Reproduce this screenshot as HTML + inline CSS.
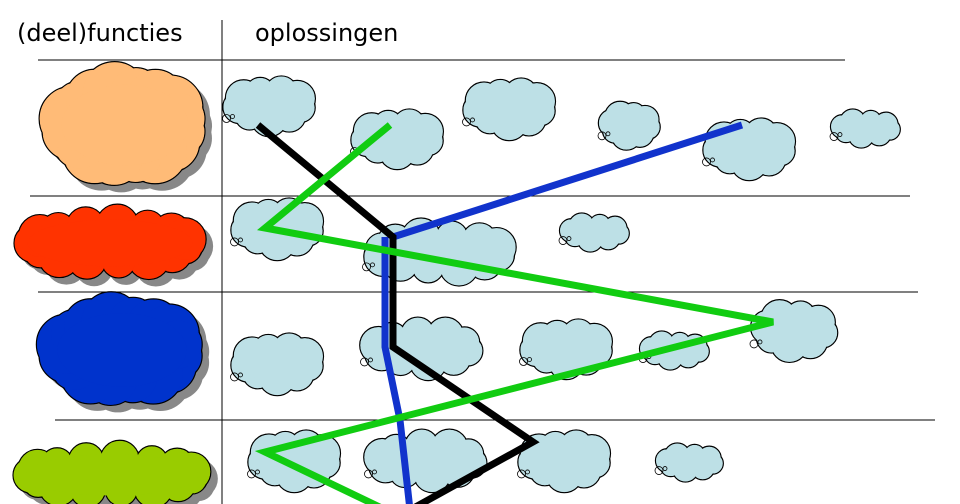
<!DOCTYPE html>
<html><head><meta charset="utf-8"><style>
body{margin:0;background:#fff;width:960px;height:504px;overflow:hidden}
svg{display:block}
text{font-family:"DejaVu Sans","Liberation Sans",sans-serif;font-size:24px;fill:#000}
</style></head><body>
<svg id="s" width="960" height="504" viewBox="0 0 960 504">
<g stroke="#000" stroke-width="1">
<line x1="38" y1="60" x2="845" y2="60"/>
<line x1="30" y1="196" x2="910" y2="196"/>
<line x1="38" y1="292" x2="918" y2="292"/>
<line x1="55" y1="420" x2="935" y2="420"/>
<line x1="222" y1="20" x2="222" y2="504"/>
</g>
<text x="17" y="41">(deel)functies</text>
<text x="255" y="41">oplossingen</text>
<g id="clouds"></g>
<g fill="none" stroke-width="7" stroke-linejoin="miter">
<polyline stroke="#1133cc" points="742,125 393,237"/>
<polyline stroke="#1133cc" points="385,237 385,347 400,420 410,510"/>
<polyline stroke="#000" points="258,125 393,237 393,347 533,442 410,510"/>
<polyline stroke="#11cc11" points="390,125 265,228 773,322 265,452 390,512"/>
</g>
</svg>
<script>
var NS="http://www.w3.org/2000/svg",G=document.getElementById("clouds");
function el(t,a,p){var e=document.createElementNS(NS,t);for(var k in a)e.setAttribute(k,a[k]);(p||G).appendChild(e);return e;}
function cloud(cx,cy,w,h,fill,shadow){
 var rx=w/2,ry=h/2,n=Math.max(8,Math.round((w+h)/18));
 var r=Math.min(rx,ry)*0.42+4;
 var pts=[];
 for(var i=0;i<n;i++){var a=i/n*2*Math.PI+0.2;pts.push([cx+(rx-r)*Math.cos(a),cy+(ry-r)*Math.sin(a),r*(0.9+0.2*((i*7)%3)/2)]);}
 var g=el("g",{});
 if(shadow){pts.forEach(function(p){el("circle",{cx:p[0]+7,cy:p[1]+7,r:p[2],fill:"#888"},g)});el("ellipse",{cx:cx+7,cy:cy+7,rx:rx-r,ry:ry-r,fill:"#888"},g);}
 pts.forEach(function(p){el("circle",{cx:p[0],cy:p[1],r:p[2],fill:fill,stroke:"#000","stroke-width":1.2},g)});
 pts.forEach(function(p){el("circle",{cx:p[0],cy:p[1],r:p[2]-0.7,fill:fill},g)});
 el("ellipse",{cx:cx,cy:cy,rx:Math.max(rx-r,2)+r*0.3,ry:Math.max(ry-r,2)+r*0.3,fill:fill},g);
 if(!shadow){var bx=cx-rx+4,by=cy+ry*0.45;
  el("circle",{cx:bx,cy:by,r:4,fill:"none",stroke:"#000","stroke-width":0.8},g);
  el("circle",{cx:bx+6,cy:by-2,r:2,fill:"none",stroke:"#000","stroke-width":0.8},g);}
}
cloud(125,125,168,122,"#ffbb77",1);
cloud(110,243,192,74,"#ff3300",1);
cloud(122,350,168,112,"#0033cc",1);
cloud(112,475,198,66,"#99cc00",1);
var L="#bde0e6";
[[270,105,95,60],[398,138,95,60],[510,108,95,62],[630,125,64,48],[750,148,95,62],[866,128,72,38],
[278,228,95,62],[440,252,155,66],[595,232,72,38],
[278,363,95,62],[423,348,125,62],[567,348,95,60],[675,350,72,38],[795,330,90,62],
[295,460,95,62],[427,460,125,62],[565,460,95,62],[690,462,70,38]].forEach(function(c){cloud(c[0],c[1],c[2],c[3],L,0)});
</script>
</body></html>
